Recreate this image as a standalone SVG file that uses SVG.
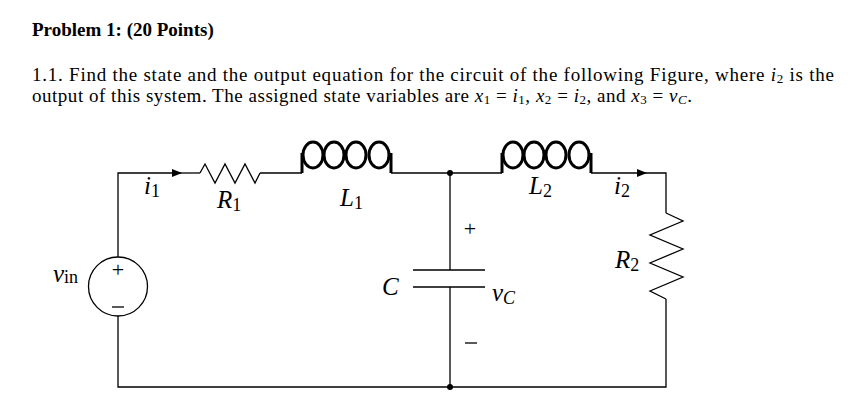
<svg xmlns="http://www.w3.org/2000/svg" width="855" height="409" viewBox="0 0 855 409">
<style>
.w{fill:none;stroke:#000;stroke-width:1.3}
.ind{fill:none;stroke:#000;stroke-width:3}
.t{font-family:"Liberation Serif",serif;font-size:19px;fill:#000}
.m{font-family:"Liberation Serif",serif;font-style:italic;font-size:25px;fill:#000}
.p{font-family:"Liberation Serif",serif;font-size:22px;fill:#000}
</style>
<defs><marker id="a" markerWidth="10" markerHeight="8" refX="9" refY="4" orient="auto" markerUnits="userSpaceOnUse"><path d="M0,0 L10,4 L0,8z"/></marker></defs>
<rect width="855" height="409" fill="#fff"/>
<text x="32" y="36" class="t" font-weight="bold" font-size="18.9">Problem 1: (20 Points)</text>
<text x="32" y="81" class="t" textLength="802" lengthAdjust="spacing">1.1. Find the state and the output equation for the circuit of the following Figure, where <tspan font-style="italic">i</tspan><tspan font-size="13" dy="2">2</tspan><tspan dy="-2"> is the</tspan></text>
<text x="32" y="102" class="t" textLength="660" lengthAdjust="spacing">output of this system. The assigned state variables are <tspan font-style="italic">x</tspan><tspan font-size="13" dy="2">1</tspan><tspan dy="-2"> = </tspan><tspan font-style="italic">i</tspan><tspan font-size="13" dy="2">1</tspan><tspan dy="-2">, </tspan><tspan font-style="italic">x</tspan><tspan font-size="13" dy="2">2</tspan><tspan dy="-2"> = </tspan><tspan font-style="italic">i</tspan><tspan font-size="13" dy="2">2</tspan><tspan dy="-2">, and </tspan><tspan font-style="italic">x</tspan><tspan font-size="13" dy="2">3</tspan><tspan dy="-2"> = </tspan><tspan font-style="italic">v</tspan><tspan font-size="13" font-style="italic" dy="2">C</tspan><tspan dy="-2">.</tspan></text>
<g id="connectors">
<path class="w" d="M118,257 V173 H181" marker-end="url(#a)"/>
<path class="w" d="M181,173 H200"/>
<path class="w" d="M260,173 H302"/>
<path class="w" d="M391,173 H502"/>
<path class="w" d="M591,173 H646" marker-end="url(#a)"/>
<path class="w" d="M646,173 H666 V213"/>
<path class="w" d="M666,299 V387 H118 V316"/>
<path class="w" d="M450,173 V270"/>
<path class="w" d="M450,287 V387"/>
<circle cx="450" cy="173" r="3"/>
<circle cx="450" cy="387" r="3"/>
</g>
<g id="vin"><circle class="w" cx="118" cy="286.5" r="29.5"/>
<text x="118" y="277" class="p" text-anchor="middle" font-size="20">+</text>
<path class="w" d="M112,307 H124"/>
<text x="53" y="282" class="m">v<tspan font-style="normal" font-size="18" dy="1">in</tspan></text></g>
<g id="R1"><path class="w" d="M200,173 L205,164 L215,183 L225,164 L235,183 L245,164 L255,183 L260,173"/>
<text x="217" y="208" class="m">R<tspan font-style="normal" font-size="18" dy="3">1</tspan></text>
<text x="144" y="194" class="m">i<tspan font-style="normal" font-size="18" dy="3">1</tspan></text></g>
<g id="L1"><path class="ind" d="M302,173 V153"/><path class="ind" d="M391,173 V153"/>
<ellipse class="ind" cx="313" cy="155" rx="10" ry="13"/><ellipse class="ind" cx="334" cy="155" rx="10" ry="13"/><ellipse class="ind" cx="356" cy="155" rx="10" ry="13"/><ellipse class="ind" cx="379" cy="155" rx="10" ry="13"/>
<text x="340" y="206" class="m">L<tspan font-style="normal" font-size="18" dy="3">1</tspan></text></g>
<g id="L2"><path class="ind" d="M502,173 V153"/><path class="ind" d="M591,173 V153"/>
<ellipse class="ind" cx="513" cy="155" rx="10" ry="13"/><ellipse class="ind" cx="534" cy="155" rx="10" ry="13"/><ellipse class="ind" cx="556" cy="155" rx="10" ry="13"/><ellipse class="ind" cx="579" cy="155" rx="10" ry="13"/>
<text x="529" y="194" class="m">L<tspan font-style="normal" font-size="18" dy="3">2</tspan></text>
<text x="614" y="194" class="m">i<tspan font-style="normal" font-size="18" dy="3">2</tspan></text></g>
<g id="C"><path class="w" d="M413,270 H485 M413,287 H485"/>
<text x="382" y="295" class="m">C</text>
<text x="470" y="236" class="p" text-anchor="middle">+</text>
<path class="w" d="M465,343 H477"/>
<text x="492" y="301" class="m">v<tspan font-size="18" dy="3">C</tspan></text></g>
<g id="R2"><path class="w" d="M666,213 L683,221 L650,235 L683,249 L650,263 L683,277 L650,291 L666,299"/>
<text x="615" y="268" class="m">R<tspan font-style="normal" font-size="18" dy="3">2</tspan></text></g>
</svg>
